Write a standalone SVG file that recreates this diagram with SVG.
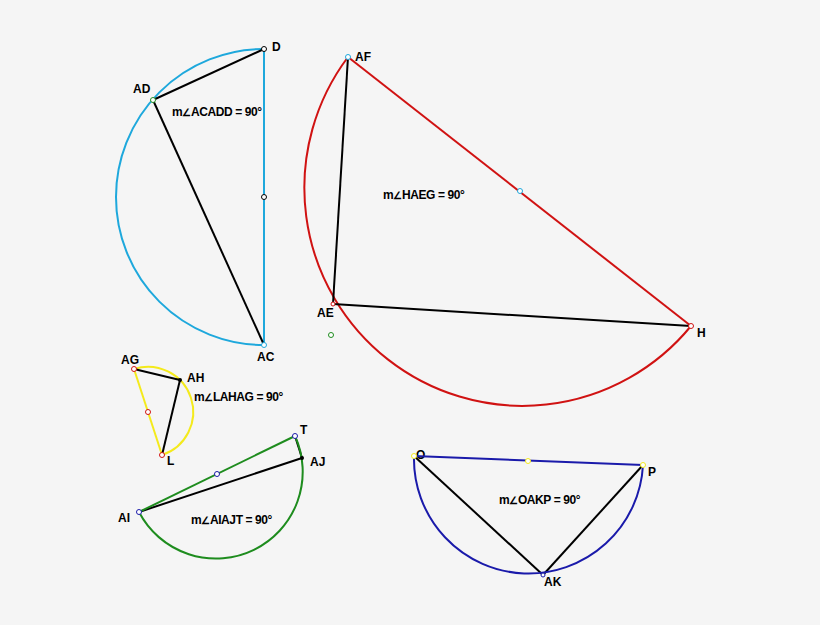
<svg xmlns="http://www.w3.org/2000/svg" width="820" height="625" viewBox="0 0 820 625">
<style>
text{font-family:"Liberation Sans",Arial,sans-serif;font-weight:bold;font-size:12px;fill:#000}
.m{letter-spacing:-0.4px}
.a{font-size:10px}
.k{stroke:#000;stroke-width:2;fill:none}
.cy{stroke:#1ea8dc;stroke-width:2;fill:none}
.rd{stroke:#d01212;stroke-width:2;fill:none}
.ye{stroke:#f4ea1c;stroke-width:2;fill:none}
.gr{stroke:#1e8c1e;stroke-width:2;fill:none}
.bl{stroke:#1a1aaa;stroke-width:2;fill:none}
.pt{fill:#fff;stroke-width:1}
</style>
<rect width="820" height="625" fill="#f5f5f5"/>
<g id="connectors">
<path class="cy" d="M264,49 A148,148 0 0 0 264,345"/>
<line class="cy" x1="264" y1="49" x2="264" y2="345"/>
<line class="k" x1="264" y1="49" x2="153" y2="100"/>
<line class="k" x1="153" y1="100" x2="264" y2="345"/>
<path class="rd" d="M348,57 A218,218 0 0 0 691,326"/>
<line class="rd" x1="348" y1="57" x2="691" y2="326"/>
<line class="k" x1="348" y1="57" x2="333" y2="304"/>
<line class="k" x1="333" y1="304" x2="691" y2="326"/>
<path class="ye" d="M134,369 A45.2,45.2 0 0 1 162,455"/>
<line class="ye" x1="134" y1="369" x2="162" y2="455"/>
<line class="k" x1="134" y1="369" x2="180" y2="380"/>
<line class="k" x1="180" y1="380" x2="162" y2="455"/>
<line class="k" x1="139" y1="512" x2="302" y2="458"/>
<line class="k" x1="302" y1="458" x2="295" y2="436"/>
<path class="gr" d="M295,436 A86.8,86.8 0 0 1 139,512"/>
<line class="gr" x1="139" y1="512" x2="295" y2="436"/>
<line class="k" x1="414" y1="456" x2="543" y2="575"/>
<line class="k" x1="543" y1="575" x2="643" y2="465"/>
</g>
<g id="fig5-label-O"><text x="416" y="459">O</text></g>
<g id="fig5-arc">
<path class="bl" d="M414,456 A114.6,114.6 0 0 0 643,465"/>
<line class="bl" x1="414" y1="456" x2="643" y2="465"/>
</g>
<g id="node-D"><circle class="pt" cx="264" cy="49" r="2.5" stroke="#000"/><text x="272" y="51">D</text></g>
<g id="node-AD"><circle class="pt" cx="153" cy="100" r="2.5" stroke="#1e8c1e"/><text x="133" y="93">AD</text></g>
<g id="node-AC"><circle class="pt" cx="264" cy="345" r="2.5" stroke="#1ea8dc"/><text x="257" y="361">AC</text></g>
<g id="node-mid1"><circle class="pt" cx="264" cy="197" r="2.5" stroke="#000"/></g>
<g id="label-ACADD"><text class="m" x="172" y="116">m<tspan class="a">∠</tspan>ACADD = 90°</text></g>
<g id="node-AF"><circle class="pt" cx="348" cy="57" r="2.5" stroke="#1ea8dc"/><text x="355" y="61">AF</text></g>
<g id="node-mid2"><circle class="pt" cx="520" cy="191" r="2.5" stroke="#1ea8dc"/></g>
<g id="node-AE"><circle class="pt" cx="333" cy="304" r="2" stroke="#d01212"/><text x="317" y="317">AE</text></g>
<g id="node-H"><circle class="pt" cx="691" cy="326" r="2.5" stroke="#d01212"/><text x="697" y="337">H</text></g>
<g id="node-G"><circle class="pt" cx="331" cy="335" r="2.5" stroke="#1e8c1e"/></g>
<g id="label-HAEG"><text class="m" x="383" y="199">m<tspan class="a">∠</tspan>HAEG = 90°</text></g>
<g id="node-AG"><circle class="pt" cx="134" cy="369" r="2.5" stroke="#d01212"/><text x="121" y="364">AG</text></g>
<g id="node-AH"><circle cx="180" cy="380" r="2" fill="#000"/><text x="187" y="382">AH</text></g>
<g id="node-L"><circle class="pt" cx="162" cy="455" r="2.5" stroke="#d01212"/><text x="167" y="465">L</text></g>
<g id="node-mid3"><circle class="pt" cx="148" cy="412" r="2.5" stroke="#d01212"/></g>
<g id="label-LAHAG"><text class="m" x="194" y="401">m<tspan class="a">∠</tspan>LAHAG = 90°</text></g>
<g id="node-T"><circle class="pt" cx="295" cy="436" r="2.5" stroke="#1a1aaa"/><text x="300" y="434">T</text></g>
<g id="node-AJ"><circle cx="302" cy="458" r="2" fill="#000"/><text x="310" y="466">AJ</text></g>
<g id="node-AI"><circle class="pt" cx="139" cy="512" r="2.5" stroke="#1a1aaa"/><text x="118" y="522">AI</text></g>
<g id="node-mid4"><circle class="pt" cx="217" cy="474" r="2.5" stroke="#1a1aaa"/></g>
<g id="label-AIAJT"><text class="m" x="191" y="524">m<tspan class="a">∠</tspan>AIAJT = 90°</text></g>
<g id="node-O"><circle class="pt" cx="414" cy="456" r="2.5" stroke="#f4ea1c"/></g>
<g id="node-P"><circle class="pt" cx="643" cy="465" r="2.5" stroke="#f4ea1c"/><text x="648" y="476">P</text></g>
<g id="node-mid5"><circle class="pt" cx="528" cy="461" r="2.5" stroke="#f4ea1c"/></g>
<g id="node-AK"><circle class="pt" cx="543" cy="575" r="2" stroke="#1a1aaa"/><text x="544" y="586">AK</text></g>
<g id="label-OAKP"><text class="m" x="499" y="504">m<tspan class="a">∠</tspan>OAKP = 90°</text></g>
</svg>
